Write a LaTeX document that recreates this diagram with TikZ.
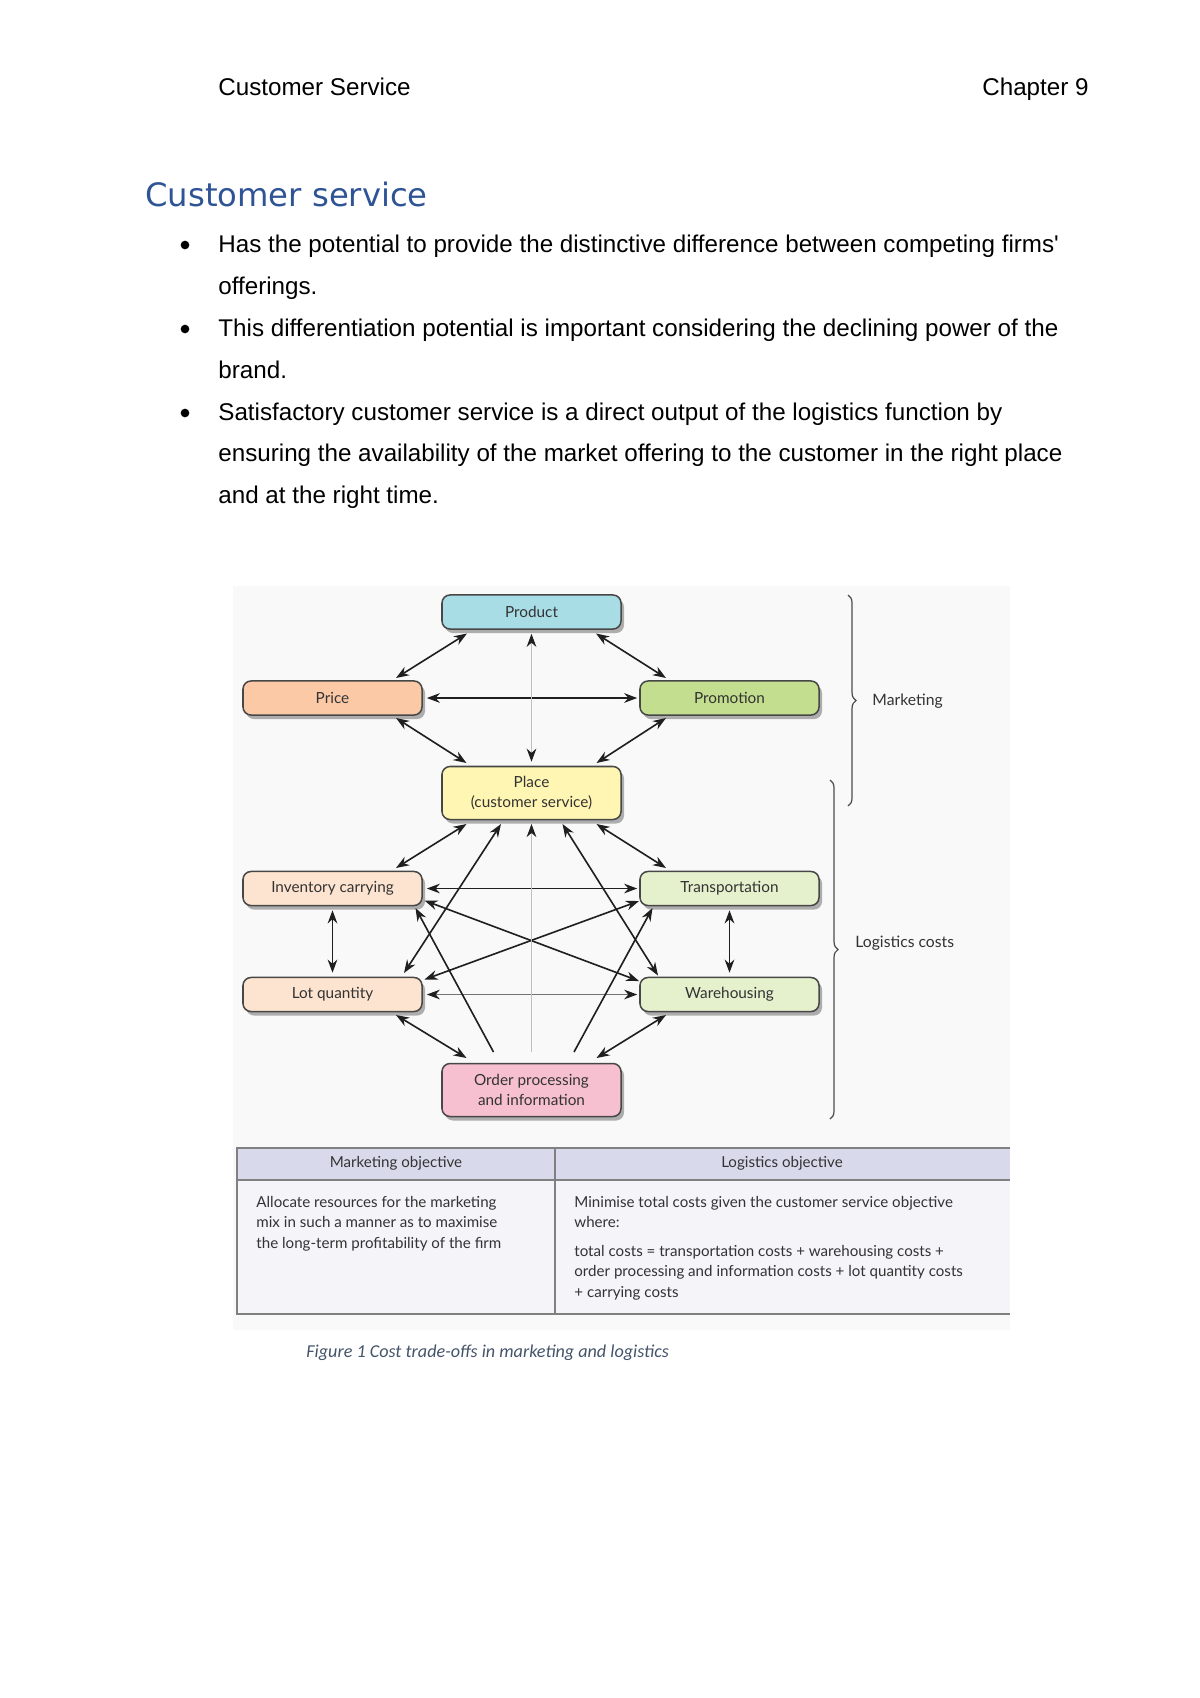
\documentclass[tikz,border=0pt]{standalone}
\usepackage{fontspec}
\setmainfont{Liberation Sans}
\newfontfamily\headingfont{DejaVu Sans}
\newfontfamily\diagfont{Lato}
\newfontfamily\captionfont{Carlito}
\usetikzlibrary{calc,shadows,arrows.meta,decorations.pathreplacing}
\definecolor{headblue}{HTML}{2F5496}
\definecolor{capcol}{HTML}{44546A}
\definecolor{cprod}{HTML}{A9DDE6}
\definecolor{cprice}{HTML}{FBC9A6}
\definecolor{cpromo}{HTML}{C2DE8E}
\definecolor{cplace}{HTML}{FFF6B3}
\definecolor{cinv}{HTML}{FDE4D0}
\definecolor{ctrans}{HTML}{E5F0CD}
\definecolor{corder}{HTML}{F6C0D0}
\definecolor{thead}{HTML}{D9D9EC}
\definecolor{tbody}{HTML}{F4F4F9}
\definecolor{diagbg}{HTML}{F9F9F9}
\definecolor{txtgray}{HTML}{333333}
\tikzset{
  ah/.tip={Stealth[length=6.5pt,width=4.8pt]},
  dah/.tip={Stealth[length=6.5pt,width=4.8pt,color=black!88]},
  box/.style={draw=black!72, line width=0.75pt, rounded corners=4pt,
    minimum width=88.8pt, minimum height=16.9pt, inner sep=0pt, align=center,
    font=\diagfont\fontsize{7.6}{10.2}\selectfont, text=txtgray,
    drop shadow={shadow xshift=1.5pt, shadow yshift=-2pt, opacity=0.3, fill=black}},
  tallbox/.style={box, minimum height=26.3pt},
  both/.style={draw=black!88, line width=0.8pt, ah-ah},
  one/.style={draw=black!88, line width=0.8pt, -ah},
  faint/.style={draw=black!25, line width=0.5pt},
  mid/.style={draw=black!55, line width=0.5pt},
  bodytext/.style={anchor=base west, inner sep=0pt, font=\fontsize{12}{14}\selectfont},
  dot/.style={circle, fill=black, inner sep=0pt, minimum size=4.3pt},
  tabtext/.style={inner sep=0pt, font=\diagfont\fontsize{7.5}{9}\selectfont, text=txtgray},
  bracelabel/.style={anchor=west, inner sep=0pt, font=\diagfont\fontsize{7.8}{9}\selectfont, text=txtgray},
  curly/.style={draw=black!70, line width=0.6pt, decorate, decoration={brace, amplitude=4pt}},
  tabline/.style={draw=black!50, line width=0.8pt}
}
\begin{document}
\begin{tikzpicture}[x=0.49607pt, y=-0.49607pt]
\useasboundingbox[fill=white] (0,0) rectangle (1200,1698);

% page header
\node[bodytext] (hl) at (218,95) {Customer Service};
\node[bodytext, anchor=base east] (hr) at (1089,95) {Chapter 9};

% heading
\node[anchor=base west, inner sep=0pt, font=\headingfont\fontsize{16}{19}\selectfont, text=headblue] (hd) at (145,206) {Customer service};

% bullets
\node[dot] (d1) at (185,245) {};
\node[dot] (d2) at (185,329) {};
\node[dot] (d3) at (185,413) {};
\node[bodytext] (t1) at (218,252) {Has the potential to provide the distinctive difference between competing firms\textquotesingle};
\node[bodytext] (t2) at (218,294) {offerings.};
\node[bodytext] (t3) at (218,336) {This differentiation potential is important considering the declining power of the};
\node[bodytext] (t4) at (218,378) {brand.};
\node[bodytext] (t5) at (218,420) {Satisfactory customer service is a direct output of the logistics function by};
\node[bodytext] (t6) at (218,461.5) {ensuring the availability of the market offering to the customer in the right place};
\node[bodytext] (t7) at (218,503) {and at the right time.};

% diagram background
\fill[diagbg] (233,586) rectangle (1010,1330);

% nodes
\node[box, fill=cprod] (prod) at (531.5,612) {Product};
\node[box, fill=cprice] (price) at (332.5,698) {Price};
\node[box, fill=cpromo] (promo) at (729.5,698) {Promotion};
\node[tallbox, fill=cplace] (place) at (531.5,793) {Place\\(customer service)};
\node[box, fill=cinv] (inv) at (332.5,888.5) {Inventory carrying};
\node[box, fill=ctrans] (trans) at (729.5,888.5) {Transportation};
\node[box, fill=cinv] (lot) at (332.5,994.5) {Lot quantity};
\node[box, fill=ctrans] (ware) at (729.5,994.5) {Warehousing};
\node[tallbox, fill=corder] (order) at (531.5,1090) {Order processing\\and information};

% marketing mix links
\draw[both] ($(prod.center)+(-64.5,21.5)$) -- ($(price.center)+(63.5,-20)$);
\draw[both] ($(prod.center)+(64.5,21.5)$) -- ($(promo.center)+(-63.5,-20)$);
\draw[both, shorten <=2pt, shorten >=1pt] (price.east) -- (promo.west);
\draw[faint, dah-dah, shorten <=2pt, shorten >=2pt] (prod.south) -- (place.north);
\draw[both] ($(price.center)+(63.5,20)$) -- ($(place.center)+(-65,-30)$);
\draw[both] ($(promo.center)+(-63.5,20)$) -- ($(place.center)+(65,-30)$);

% logistics links
\draw[both] ($(place.center)+(-65,31)$) -- ($(inv.center)+(63.5,-20.5)$);
\draw[both] ($(place.center)+(65,31)$) -- ($(trans.center)+(-63.5,-20.5)$);
\draw[both, shorten <=2pt, shorten >=1pt] (inv.east) -- (trans.west);
\draw[both, shorten <=2pt, shorten >=2pt] (inv.south) -- (lot.north);
\draw[both, shorten <=2pt, shorten >=2pt] (trans.south) -- (ware.north);
\draw[mid, dah-dah, shorten <=2pt, shorten >=1pt] (lot.east) -- (ware.west);
\draw[both] ($(inv.center)+(92,12)$) -- ($(ware.center)+(-90.5,-13.5)$);
\draw[both] ($(lot.center)+(92,-15)$) -- ($(trans.center)+(-90.5,12.5)$);
\draw[both] ($(place.center)+(-30.5,31)$) -- ($(lot.center)+(71.5,-21.5)$);
\draw[both] ($(place.center)+(31,31)$) -- ($(ware.center)+(-71.5,-19)$);
\draw[faint, -dah] ($(order.center)+(0,-38)$) -- ($(place.center)+(0,31)$);
\draw[one] ($(order.center)+(-38,-38)$) -- ($(inv.center)+(83,19.5)$);
\draw[one] ($(order.center)+(42.5,-38)$) -- ($(trans.center)+(-77,19.5)$);
\draw[both] ($(lot.center)+(63.5,20.5)$) -- ($(order.center)+(-65,-32)$);
\draw[both] ($(ware.center)+(-63.5,20.5)$) -- ($(order.center)+(65,-32)$);

% braces
\coordinate (mkt1) at (848,595);
\coordinate (mkt2) at (848,806);
\coordinate (log1) at (830,780);
\coordinate (log2) at (830,1119);
\draw[curly] (mkt1) -- (mkt2);
\draw[curly] (log1) -- (log2);
\node[bracelabel] (mktl) at (872,701) {Marketing};
\node[bracelabel] (logl) at (855,943) {Logistics costs};

% table
\fill[thead] (237,1148) rectangle (1010,1180);
\fill[tbody] (237,1180) rectangle (1010,1314);
\draw[tabline] (1010,1148) -- (237,1148) -- (237,1314) -- (1010,1314);
\draw[tabline] (237,1180) -- (1010,1180);
\draw[tabline] (555,1148) -- (555,1314);
\node[tabtext] (th1) at (396,1163) {Marketing objective};
\node[tabtext] (th2) at (782,1163) {Logistics objective};
\node[tabtext, anchor=base west] (l1) at (256,1207) {Allocate resources for the marketing};
\node[tabtext, anchor=base west] (l2) at (256,1227.5) {mix in such a manner as to maximise};
\node[tabtext, anchor=base west] (l3) at (256,1248) {the long-term profitability of the firm};
\node[tabtext, anchor=base west] (r1) at (574,1207) {Minimise total costs given the customer service objective};
\node[tabtext, anchor=base west] (r2) at (574,1227.5) {where:};
\node[tabtext, anchor=base west] (r3) at (574,1256) {total costs = transportation costs + warehousing costs +};
\node[tabtext, anchor=base west] (r4) at (574,1276.5) {order processing and information costs + lot quantity costs};
\node[tabtext, anchor=base west] (r5) at (574,1297) {+ carrying costs};

% caption
\node[anchor=base west, inner sep=0pt, font=\captionfont\itshape\fontsize{9}{11}\selectfont, text=capcol] (cap) at (306,1357) {Figure 1 Cost trade-offs in marketing and logistics};
\end{tikzpicture}
\end{document}
